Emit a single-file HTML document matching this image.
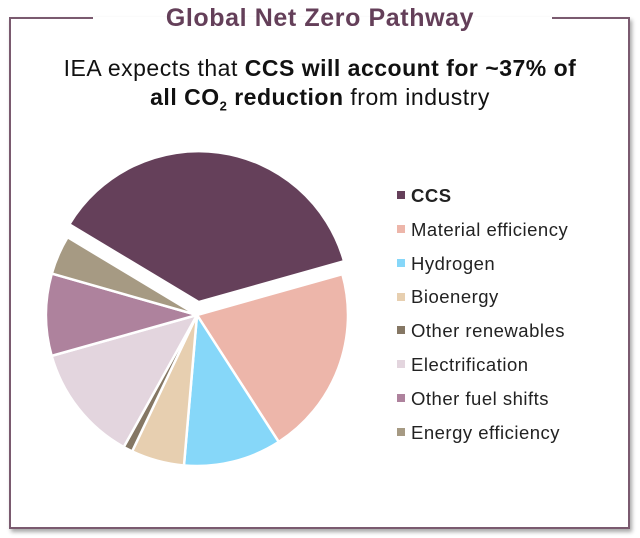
<!DOCTYPE html>
<html><head><meta charset="utf-8">
<style>
body{margin:0;width:640px;height:538px;background:#fff;position:relative;overflow:hidden;font-family:"Liberation Sans",sans-serif;}
.frame{position:absolute;left:9px;top:17px;width:617px;height:510px;border:2px solid #7a5a6f;border-top:none;box-shadow:2px 3px 4px rgba(0,0,0,0.35);}
.tl{position:absolute;top:17px;height:2px;background:#7a5a6f;}
.title{position:absolute;left:0;width:640px;top:4px;text-align:center;font-size:25px;letter-spacing:0.6px;font-weight:bold;color:#643f59;}
.sub{position:absolute;left:0;width:640px;top:54px;text-align:center;font-size:23px;letter-spacing:0.5px;line-height:29px;color:#111;}
.leg{position:absolute;left:397px;font-size:18.5px;letter-spacing:0.5px;color:#222;}
.leg span.sq{display:inline-block;width:8px;height:8px;margin-right:6px;vertical-align:middle;position:relative;top:-2px;}
</style></head><body>
<div class="frame"></div>
<div class="tl" style="left:9px;width:84px"></div>
<div class="tl" style="left:552px;width:76px"></div>
<div class="title">Global Net Zero Pathway</div>
<div class="sub">IEA expects that <b>CCS will account for ~37% of<br>all CO<sub style="font-size:13px">2</sub> reduction</b> from industry</div>
<svg id="pie" width="640" height="538" style="position:absolute;left:0;top:0"></svg>
<div id="legend"></div>
<script>
const categories=["CCS","Material efficiency","Hydrogen","Bioenergy","Other renewables","Electrification","Other fuel shifts","Energy efficiency"];
const values=[37.1,20.3,10.5,5.7,1.0,12.6,8.8,4.2];
const colors=["#65405a","#edb6aa","#86d7f9","#e7cfb0","#857764","#e3d5de","#ae829d","#a69a83"];
const cx=197,cy=315,r=151,start=-59;
const svg=document.getElementById('pie');
const total=values.reduce((a,b)=>a+b,0);
let a=start;
function pt(deg,rad,ox,oy){const t=deg*Math.PI/180;return [ox+rad*Math.sin(t),oy-rad*Math.cos(t)];}
values.forEach((v,i)=>{
  const sweep=v/total*360;
  const mid=a+sweep/2;
  const off=i===0?13:0;
  const [ox,oy]=pt(mid,off,cx,cy);
  const [x1,y1]=pt(a,r,ox,oy),[x2,y2]=pt(a+sweep,r,ox,oy);
  const p=document.createElementNS('http://www.w3.org/2000/svg','path');
  p.setAttribute('d',`M${ox},${oy}L${x1},${y1}A${r},${r} 0 ${sweep>180?1:0} 1 ${x2},${y2}Z`);
  p.setAttribute('fill',colors[i]);p.setAttribute('stroke','#fff');p.setAttribute('stroke-width','2.5');p.setAttribute('stroke-linejoin','round');
  
  
  svg.appendChild(p);
  a+=sweep;
});
const lg=document.getElementById('legend');
categories.forEach((c,i)=>{
  const d=document.createElement('div');d.className='leg';d.style.top=(185+i*33.8)+'px';
  d.innerHTML='<span class="sq" style="background:'+colors[i]+'"></span>'+(i===0?'<b>'+c+'</b>':c);
  
  
  lg.appendChild(d);
});
</script>
</body></html>
